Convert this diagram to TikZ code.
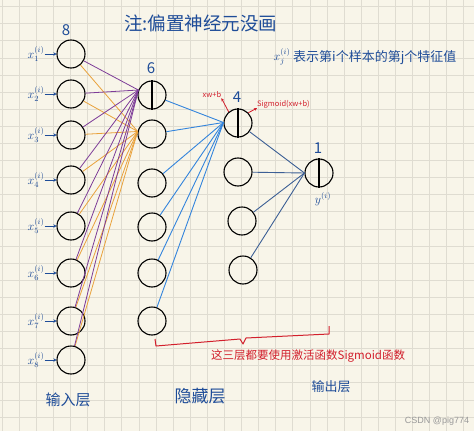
\documentclass[tikz,border=0pt]{standalone}
\usepackage{fontspec}
\newfontfamily\cjk{Noto Sans CJK SC}
\newfontfamily\wm{Liberation Sans}
\usetikzlibrary{arrows.meta}
\definecolor{paper}{HTML}{F8F5E9}
\definecolor{gridc}{HTML}{DFDCD1}
\definecolor{ink}{HTML}{1E4C98}
\definecolor{redink}{HTML}{D21F2C}
\definecolor{purp}{HTML}{7D3C98}
\definecolor{oran}{HTML}{E9A23B}
\definecolor{blueline}{HTML}{3384DC}
\definecolor{dblue}{HTML}{3C5F95}
\begin{document}
\begin{tikzpicture}[x=1pt,y=-1pt,
  neuron/.style={circle,draw=black,line width=1.1pt,minimum size=28pt,inner sep=0pt},
  splitline/.style={draw=black,line width=1.1pt},
  inlabel/.style={text=ink,font=\fontsize{11.5}{12}\selectfont,inner sep=0pt},
  count/.style={text=ink,font=\cjk\fontsize{15}{16}\selectfont,inner sep=0pt},
  inarrow/.style={draw=ink,line width=0.9pt,-{Stealth[length=3pt,width=3.5pt]}},
  purpline/.style={draw=purp,line width=0.8pt},
  oranline/.style={draw=oran,line width=0.8pt},
  blueconn/.style={draw=blueline,line width=0.9pt},
  dblueconn/.style={draw=dblue,line width=0.9pt},
  redarrow/.style={draw=redink,line width=0.8pt,-{Stealth[length=3pt,width=3pt]}},
  redtext/.style={text=redink,inner sep=0pt},
  cjktext/.style={text=ink,inner sep=0pt}
]
% background
\useasboundingbox (0,0) rectangle (474,431);
\fill[paper] (0,0) rectangle (474,431);
\foreach \i in {0,...,27} \draw[gridc,line width=0.6pt] ({2+17.1*\i},0) -- ({2+17.1*\i},431);
\foreach \j in {0,...,24} \draw[gridc,line width=0.6pt] (0,{6.5+17.1*\j}) -- (474,{6.5+17.1*\j});

% title texts
\node[cjktext,anchor=west,font=\cjk\fontsize{18.5}{20}\selectfont] (title) at (124,23) {注:偏置神经元没画};
\node[inlabel,font=\fontsize{12}{13}\selectfont] (xj) at (282,57) {$x_j^{(i)}$};
\node[cjktext,anchor=west,font=\cjk\fontsize{13}{14}\selectfont] (sub) at (293,58) {表示第i个样本的第j个特征值};

% input layer
\foreach \k/\y in {1/54,2/94,3/135,4/180,5/226,6/273,7/321,8/360}
  \node[neuron] (in\k) at (71,\y) {};
% hidden layer
\foreach \k/\y in {1/95,2/134,3/183,4/227,5/273,6/321}
  \node[neuron] (h\k) at (152,\y) {};
% third layer
\node[neuron] (l1) at (238,123) {};
\node[neuron] (l2) at (238,172) {};
\node[neuron] (l3) at (242,221) {};
\node[neuron] (l4) at (243,270) {};
% output
\node[neuron] (o) at (319,173) {};

% split lines
\draw[splitline] (h1.north) -- (h1.south);
\draw[splitline] (l1.north) -- (l1.south);
\draw[splitline] (o.north) -- (o.south);

% counts
\node[count] (c8) at (66,30) {8};
\node[count] (c6) at (151,68) {6};
\node[count] (c4) at (237,97) {4};
\node[count] (c1) at (318,148) {1};
\node[inlabel] (y) at (323,199) {$y^{(i)}$};

% input labels and arrows
\foreach \k/\y in {1/54,2/94,3/135,4/180,5/226,6/273,7/321,8/360} {
  \node[inlabel] (x\k) at (36,\y) {$x_{\k}^{(i)}$};
  \draw[inarrow] (x\k.east) -- (in\k.west);
}

% input -> hidden
\foreach \k in {1,...,8} \draw[oranline] (in\k) -- (h2.170);
\foreach \k in {1,...,8} \draw[purpline] (in\k) -- (h1.160);

% hidden -> third
\foreach \k in {1,...,6} \draw[blueconn] (h\k) -- (l1.178);

% third -> output
\foreach \k in {1,...,4} \draw[dblueconn] (l\k) -- (o.west);

% red annotations
\node[redtext,font=\cjk\fontsize{7.5}{9}\selectfont] (xwb) at (212,95) {xw+b};
\draw[redarrow] (l1.130) -- (xwb.south east);
\node[redtext,font=\cjk\fontsize{7.5}{9}\selectfont,anchor=west] (sig) at (257,104) {Sigmoid(xw+b)};
\draw[redarrow] (l1.45) -- (sig.south west);

% bracket
\coordinate (b1) at (155,339);
\coordinate (b2) at (156,346);
\coordinate (b3) at (240,339);
\coordinate (b4) at (243,344);
\coordinate (b5) at (246,338);
\coordinate (b6) at (329,334);
\coordinate (b7) at (329,326);
\draw[redink,line width=1pt,line join=round] (b1) -- (b2) -- (b3) -- (b4) -- (b5) -- (b6) -- (b7);
\node[redtext,anchor=west,font=\cjk\fontsize{11.5}{13}\selectfont] (note) at (211,356) {这三层都要使用激活函数Sigmoid函数};

% layer labels
\node[cjktext,font=\cjk\fontsize{15}{16}\selectfont] (lin) at (68,400) {输入层};
\node[cjktext,font=\cjk\fontsize{17}{18}\selectfont] (lhid) at (200,396) {隐藏层};
\node[cjktext,font=\cjk\fontsize{13}{14}\selectfont] (lout) at (331,387) {输出层};

% watermark
\node[text=black!40,font=\wm\fontsize{9}{10}\selectfont,inner sep=0pt] (wmk) at (437,421) {CSDN @pig774};
\end{tikzpicture}
\end{document}
